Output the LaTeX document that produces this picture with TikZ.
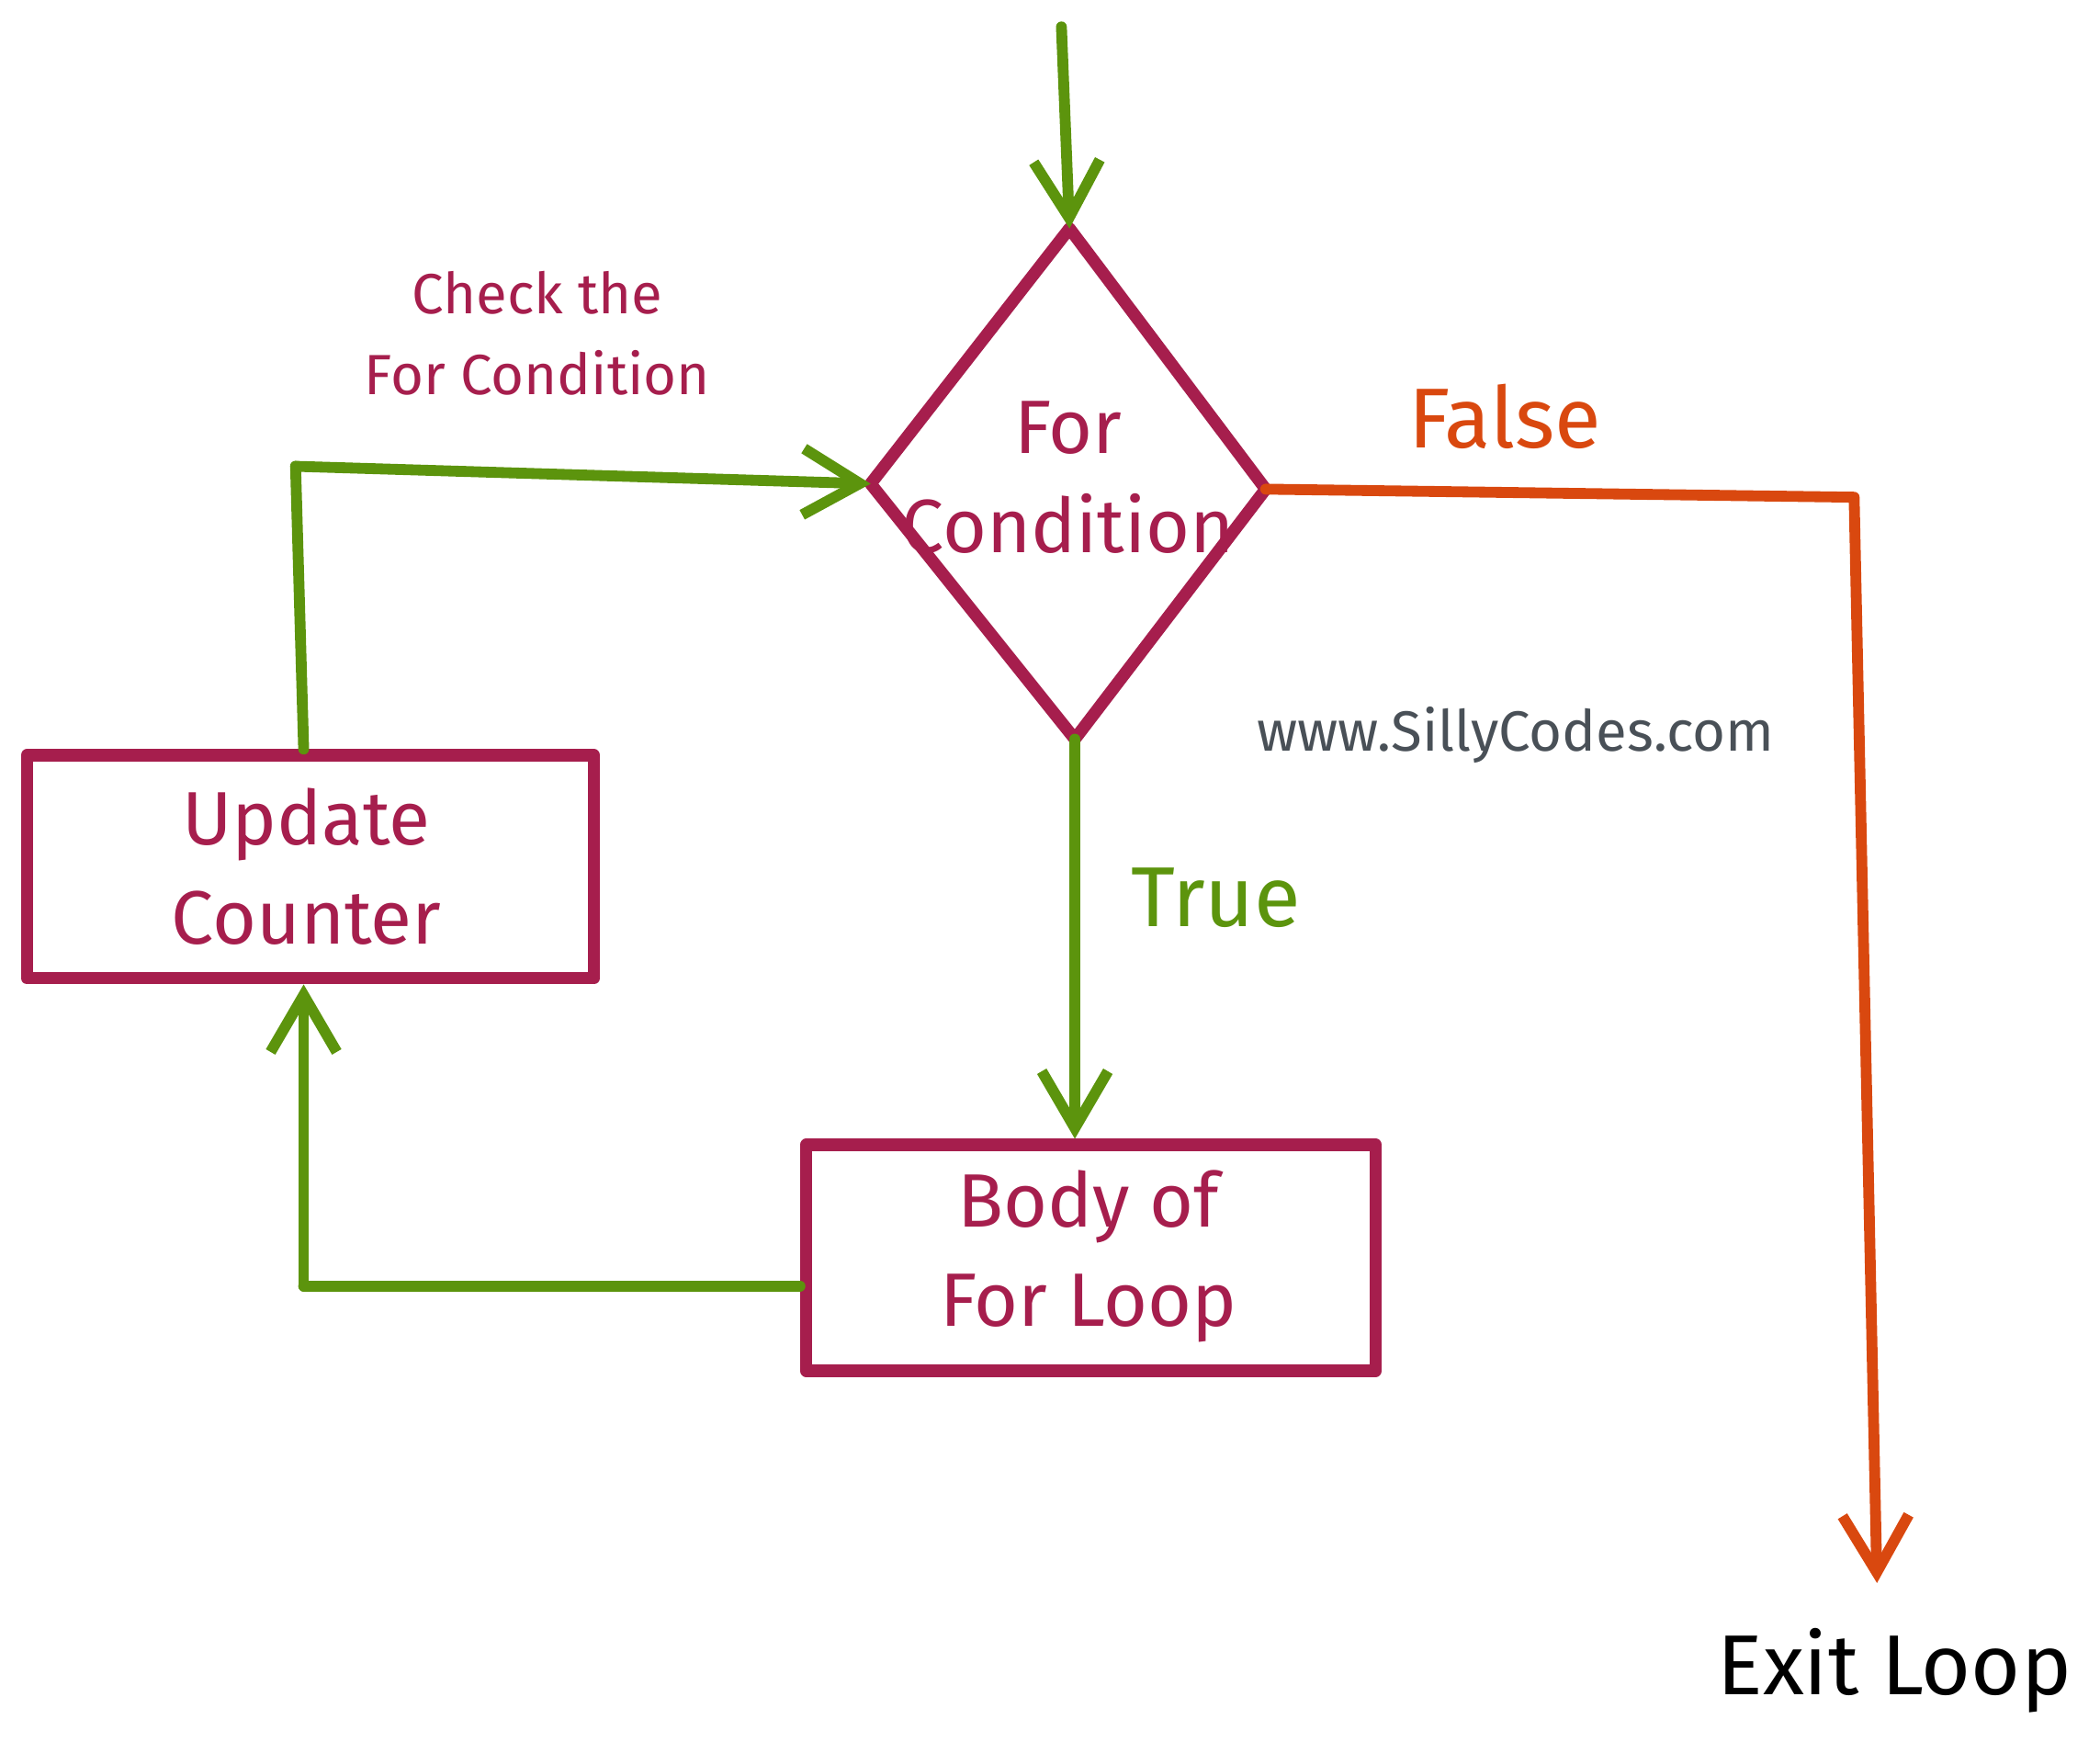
\documentclass[tikz,border=0pt]{standalone}
\usepackage{fontspec}
\setmainfont{Fira Sans}
\usetikzlibrary{arrows.meta}
\definecolor{pur}{HTML}{A61E4D}
\definecolor{grn}{HTML}{5C940D}
\definecolor{org}{HTML}{D9480F}
\definecolor{gry}{HTML}{495057}
\tikzset{
  boxst/.style={draw=pur,line width=2.6pt,line join=round},
  lbl/.style={text=pur,font=\fontsize{16}{21}\selectfont,align=center},
  garr/.style={draw=grn,line width=2.3pt,line cap=round,-{Straight Barb[length=12pt,width=14pt,line width=2.3pt]}},
  gline/.style={draw=grn,line width=2.3pt,line cap=round},
  oline/.style={draw=org,line width=2.3pt,line cap=round,line join=round}
}
\begin{document}
\begin{tikzpicture}[x=0.01cm,y=-0.01cm]
\useasboundingbox (0,0) rectangle (1563,1296);
% diamond
\coordinate (dt) at (796,170);
\coordinate (dl) at (648,360);
\coordinate (dr) at (942,364);
\coordinate (db) at (800,550);
\draw[boxst] (dt) -- (dr) -- (db) -- (dl) -- cycle;
\node[lbl] (cond) at (795,355) {For\\Condition};
% boxes
\node[boxst,minimum width=422*0.01cm,minimum height=166*0.01cm] (upd) at (231,645) {};
\node[lbl] (updt) at (228,645) {Update\\Counter};
\node[boxst,minimum width=424*0.01cm,minimum height=168*0.01cm] (body) at (812,936) {};
\node[lbl] (bodyt) at (810,935) {Body of\\For Loop};
% entry
\coordinate (start) at (790,20);
\draw[garr] (start) -- (dt);
% true
\draw[garr] (db) -- (body.north -| db);
\node[text=grn,font=\fontsize{18}{22}\selectfont] (tl) at (905,668) {True};
% false
\coordinate (fc) at (1380,370);
\coordinate (fe) at (1397,1178);
\draw[oline,-{Straight Barb[length=12pt,width=14pt,line width=2.3pt]}] (dr) -- (fc) -- (fe);
\node[text=org,font=\fontsize{18}{22}\selectfont] (fl) at (1120,310) {False};
\node[font=\fontsize{18}{22}\selectfont] (exit) at (1410,1243) {Exit Loop};
% loop back
\coordinate (lb) at (226,957);
\draw[gline] (body.west |- lb) -- (lb);
\draw[garr] (lb) -- (upd.south -| lb);
\coordinate (lt) at (220,347);
\draw[gline] (upd.north -| 226,0) -- (lt);
\draw[garr] (lt) -- (dl);
\node[lbl,font=\fontsize{12}{17}\selectfont] (chk) at (400,248) {Check the\\For Condition};
\node[text=gry,font=\fontsize{12}{16}\selectfont] (www) at (1128,547) {www.SillyCodes.com};
\end{tikzpicture}
\end{document}
